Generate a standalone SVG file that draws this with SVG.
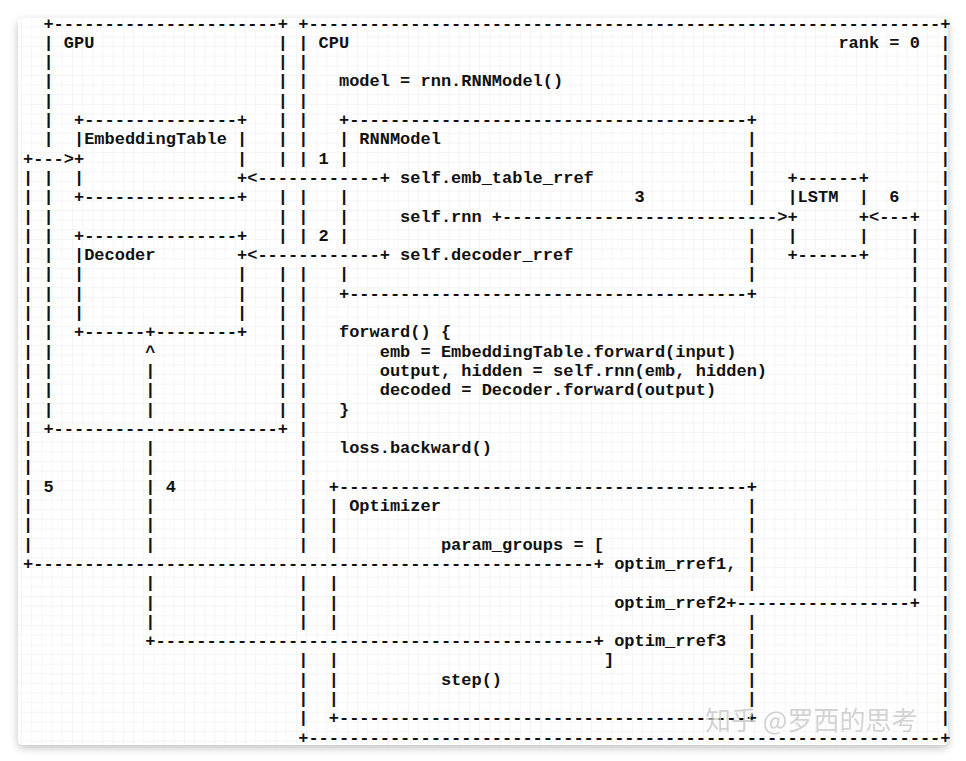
<svg xmlns="http://www.w3.org/2000/svg" width="966" height="761" viewBox="0 0 966 761">
<defs>
<pattern id="grid" width="10.18" height="9.65" patternUnits="userSpaceOnUse" x="22" y="18">
<path d="M10.18 0V9.65M0 9.65H10.18" fill="none" stroke="#e6e6e6" stroke-width="0.8"/>
</pattern>
<filter id="sh" x="-5%" y="-5%" width="110%" height="110%"><feDropShadow dx="0" dy="3" stdDeviation="4" flood-color="#000" flood-opacity="0.25"/></filter>
</defs>
<style>
text.a{font-family:"Liberation Mono","DejaVu Sans Mono",monospace;font-weight:bold;font-size:16.99px;fill:#111;white-space:pre}
text.w{font-family:"Noto Sans CJK SC",sans-serif;font-size:26px;fill:#c8c8c8;opacity:0.8}
</style>
<rect width="966" height="761" fill="#fff"/>
<rect x="18" y="18" width="930" height="727" rx="5" fill="#fff" filter="url(#sh)"/>
<rect x="18" y="18" width="930" height="727" fill="url(#grid)"/>
<g id="ascii" xml:space="preserve" transform="translate(23,5.5)">
<text class="a" y="23.0">  +----------------------+ +--------------------------------------------------------------+</text>
<text class="a" y="42.3">  | GPU                  | | CPU                                                rank = 0  |</text>
<text class="a" y="61.6">  |                      | |                                                              |</text>
<text class="a" y="80.9">  |                      | |   model = rnn.RNNModel()                                     |</text>
<text class="a" y="100.2">  |                      | |                                                              |</text>
<text class="a" y="119.5">  |  +---------------+   | |   +---------------------------------------+                  |</text>
<text class="a" y="138.8">  |  |EmbeddingTable |   | |   | RNNModel                              |                  |</text>
<text class="a" y="158.1">+--->+               |   | | 1 |                                       |                  |</text>
<text class="a" y="177.4">| |  |               +&lt;------------+ self.emb_table_rref               |   +------+       |</text>
<text class="a" y="196.7">| |  +---------------+   | |   |                            3          |   |LSTM  |  6    |</text>
<text class="a" y="216.0">| |                      | |   |     self.rnn +---------------------------&gt;+      +&lt;---+  |</text>
<text class="a" y="235.3">| |  +---------------+   | | 2 |                                       |   |      |    |  |</text>
<text class="a" y="254.6">| |  |Decoder        +&lt;------------+ self.decoder_rref                 |   +------+    |  |</text>
<text class="a" y="273.9">| |  |               |   | |   |                                       |               |  |</text>
<text class="a" y="293.2">| |  |               |   | |   +---------------------------------------+               |  |</text>
<text class="a" y="312.5">| |  |               |   | |                                                           |  |</text>
<text class="a" y="331.8">| |  +------+--------+   | |   forward() {                                             |  |</text>
<text class="a" y="351.1">| |         ^            | |       emb = EmbeddingTable.forward(input)                 |  |</text>
<text class="a" y="370.4">| |         |            | |       output, hidden = self.rnn(emb, hidden)              |  |</text>
<text class="a" y="389.7">| |         |            | |       decoded = Decoder.forward(output)                   |  |</text>
<text class="a" y="409.0">| |         |            | |   }                                                       |  |</text>
<text class="a" y="428.3">| +----------------------+ |                                                           |  |</text>
<text class="a" y="447.6">|           |              |   loss.backward()                                         |  |</text>
<text class="a" y="466.9">|           |              |                                                           |  |</text>
<text class="a" y="486.2">| 5         | 4            |  +----------------------------------------+               |  |</text>
<text class="a" y="505.5">|           |              |  | Optimizer                              |               |  |</text>
<text class="a" y="524.8">|           |              |  |                                        |               |  |</text>
<text class="a" y="544.1">|           |              |  |          param_groups = [              |               |  |</text>
<text class="a" y="563.4">+-------------------------------------------------------+ optim_rref1, |               |  |</text>
<text class="a" y="582.7">            |              |  |                                        |               |  |</text>
<text class="a" y="602.0">            |              |  |                           optim_rref2+-----------------+  |</text>
<text class="a" y="621.3">            |              |  |                                        |                  |</text>
<text class="a" y="640.6">            +-------------------------------------------+ optim_rref3  |                  |</text>
<text class="a" y="659.9">                           |  |                          ]             |                  |</text>
<text class="a" y="679.2">                           |  |          step()                        |                  |</text>
<text class="a" y="698.5">                           |  |                                        |                  |</text>
<text class="a" y="717.8">                           |  +----------------------------------------+                  |</text>
<text class="a" y="737.1">                           +--------------------------------------------------------------+</text>
</g>
<text class="w" x="705" y="730">知乎 @罗西的思考</text>
</svg>
